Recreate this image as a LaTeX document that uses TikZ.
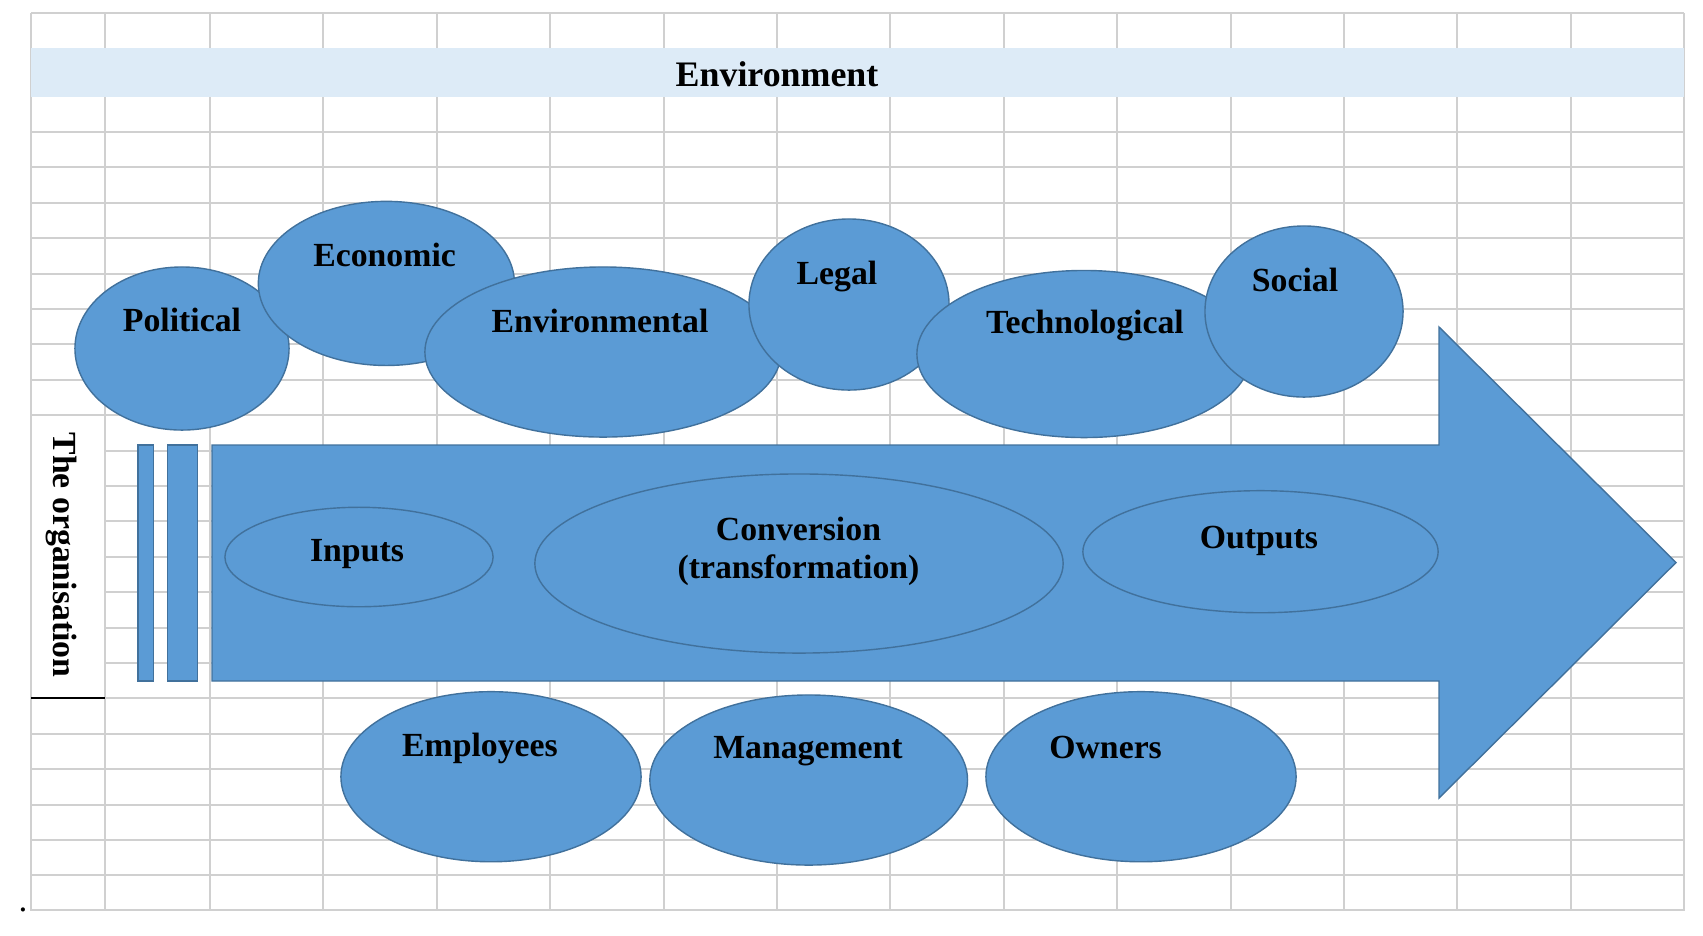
\documentclass[tikz,border=0pt]{standalone}
\usepackage{fontspec}
\setmainfont{Liberation Serif}
\usepackage{tikz}
\usetikzlibrary{shapes,positioning}
\definecolor{boxblue}{RGB}{91,155,213}
\definecolor{edgeblue}{RGB}{65,113,156}
\definecolor{bandblue}{RGB}{221,235,247}
\definecolor{gridgray}{RGB}{208,208,208}

\begin{document}
\begin{tikzpicture}[x=0.01cm, y=-0.01cm]
	\tikzstyle{gridline}=[draw=gridgray, line width=0.55pt]
	\tikzstyle{shapefill}=[draw=edgeblue, fill=boxblue, line width=0.4pt]
	\tikzstyle{bubble}=[ellipse, draw=edgeblue, fill=boxblue, line width=0.4pt, inner sep=0pt]
	\tikzstyle{ring}=[ellipse, draw=edgeblue, line width=0.4pt, inner sep=0pt]
	\tikzstyle{lbl}=[font=\bfseries\fontsize{9.6}{10.8}\selectfont, align=center, inner sep=0pt]

	\useasboundingbox (0,0) rectangle (1703,935);

	% sheet grid
	\draw[gridline] (31,13) -- (1684,13);
	\foreach \k in {0,...,8}
		\draw[gridline] (31,132+35.4*\k) -- (1684,132+35.4*\k);
	\foreach \k in {9,...,15}
		\draw[gridline] (105,132+35.4*\k) -- (1684,132+35.4*\k);
	\foreach \k in {16,...,21}
		\draw[gridline] (31,132+35.4*\k) -- (1684,132+35.4*\k);
	\draw[gridline] (31,910) -- (1684,910);
	\draw[gridline] (31,13) -- (31,911);
	\draw[gridline] (105,13) -- (105,911);
	\foreach \k in {0,...,13}
		\draw[gridline] (210+113.4*\k,13) -- (210+113.4*\k,911);
	\draw[black, line width=0.6pt] (31,698.4) -- (105,698.4);

	% header band
	\fill[bandblue] (31,48) rectangle (1684,97);
	\node[lbl, font=\bfseries\fontsize{10.2}{12}\selectfont] (env) at (777,74) {Environment};
	\node[lbl, rotate=-90] (org) at (61.6,555) {The organisation};
	\node[lbl, font=\fontsize{10}{12}\selectfont] (dot) at (23,910) {.};

	% process arrow
	\draw[shapefill] (212,445) -- (1439,445) -- (1439,327) -- (1676,562.5)
		-- (1439,798) -- (1439,681) -- (212,681) -- cycle;
	\draw[shapefill] (138,445) rectangle (153.6,681);
	\draw[shapefill] (167.5,445) rectangle (197.5,681);

	% outside forces
	\node[bubble, minimum width=2.14cm, minimum height=1.63cm] (pol) at (182,348.5) {};
	\node[lbl] (pol-t) at (182,320) {Political};
	\node[bubble, minimum width=2.56cm, minimum height=1.64cm] (eco) at (386.4,283.4) {};
	\node[lbl] (eco-t) at (384.6,255) {Economic};
	\node[bubble, minimum width=3.56cm, minimum height=1.70cm] (envi) at (603,352) {};
	\node[lbl] (envi-t) at (600,321) {Environmental};
	\node[bubble, minimum width=2.00cm, minimum height=1.71cm] (leg) at (849,304.5) {};
	\node[lbl] (leg-t) at (837,276) {Legal};
	\node[bubble, minimum width=3.34cm, minimum height=1.67cm] (tec) at (1084,354) {};
	\node[lbl] (tec-t) at (1085,325) {Technological};
	\node[bubble, minimum width=1.98cm, minimum height=1.71cm] (soc) at (1304,311.5) {};
	\node[lbl] (soc-t) at (1295,280) {Social};

	% inside the organisation
	\node[ring, minimum width=2.68cm, minimum height=0.994cm] (inp) at (359,557) {};
	\node[lbl] (inp-t) at (357,554) {Inputs};
	\node[ring, minimum width=5.28cm, minimum height=1.79cm] (conv) at (799,563.5) {};
	\node[lbl] (conv-t) at (798.5,551) {Conversion\\(transformation)};
	\node[ring, minimum width=3.55cm, minimum height=1.22cm] (out) at (1260.5,551.7) {};
	\node[lbl] (out-t) at (1259,541) {Outputs};

	% stakeholders
	\node[bubble, minimum width=3.00cm, minimum height=1.70cm] (emp) at (491,776.7) {};
	\node[lbl] (emp-t) at (480,748) {Employees};
	\node[bubble, minimum width=3.175cm, minimum height=1.70cm] (man) at (808.7,780) {};
	\node[lbl] (man-t) at (808,751) {Management};
	\node[bubble, minimum width=3.10cm, minimum height=1.70cm] (own) at (1141,776.7) {};
	\node[lbl] (own-t) at (1105.6,747) {Owners};
\end{tikzpicture}
\end{document}
